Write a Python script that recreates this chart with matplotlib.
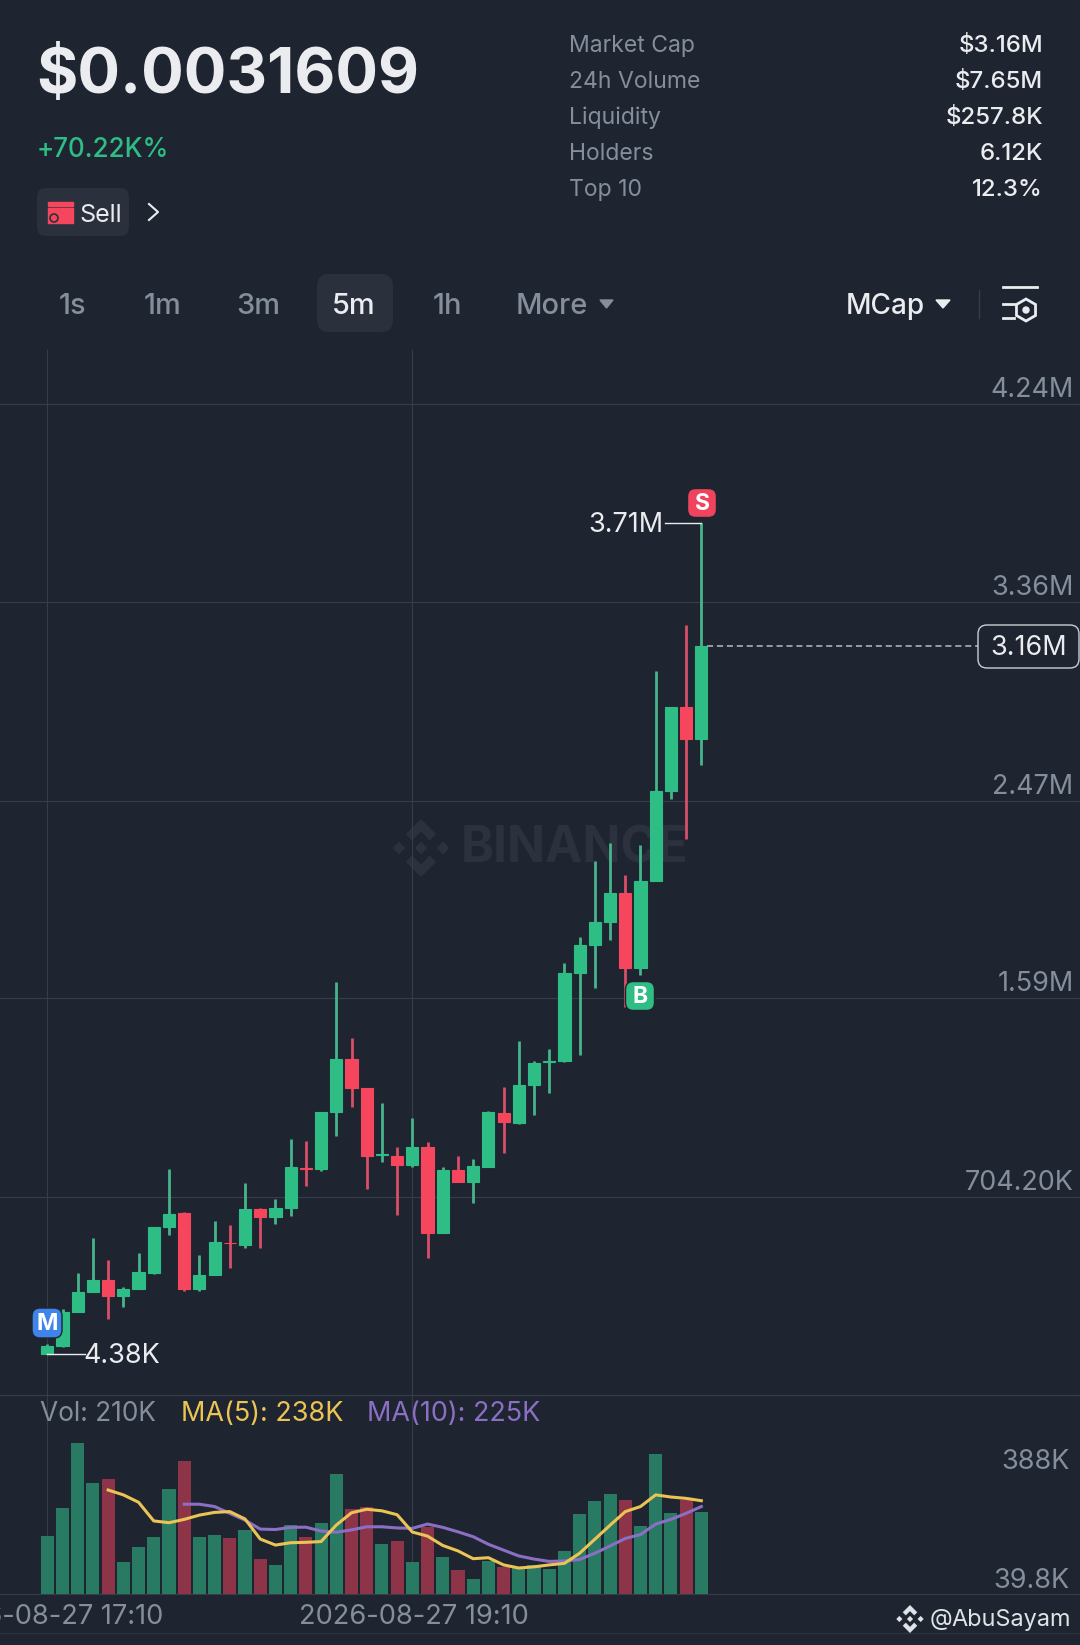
import matplotlib
matplotlib.use("Agg")
import matplotlib.pyplot as plt
from matplotlib.patches import FancyBboxPatch, Polygon, Circle, RegularPolygon

BACKGROUND = "#1e2530"
GRID_COLOR = "#363d49"
PILL_COLOR = "#2a313c"
GREEN = "#2ebd85"
RED = "#f6465d"
GREEN_WICK = "#47b58c"
RED_WICK = "#d94f68"
VOL_GREEN = "#287a63"
VOL_RED = "#8e3449"
MUTED = "#848e9c"
WHITE = "#eaecef"
MA5_COLOR = "#ecc455"
MA10_COLOR = "#8b6fc4"

plt.rcParams["font.family"] = ["Inter", "DejaVu Sans"]

# candles, values in thousands
OPENS = [5, 39.6, 192.7, 281.9, 332.5, 264.1, 293.8, 366.7, 568.9, 632.8, 293.8, 356.3,
         500.5, 491.6, 650.6, 614.9, 653.6, 833.5, 829, 1081.8, 1318.2, 1191.8, 892,
         888.5, 846.9, 928.6, 542, 824.6, 771, 839.4, 1080.3, 1035.7, 1203.7, 1307.8,
         1309.2, 1701, 1830.3, 1932, 2058.2, 1727.3, 2113.6, 2513.2, 2891.4, 2746.9]
HIGHS = [47, 203, 363.7, 519.8, 423, 301.3, 452.9, 571.9, 827.6, 638.7, 445.5, 597,
         579.2, 768, 653.6, 693.7, 964.3, 952.4, 1081.8, 1661.6, 1414.8, 1191.8, 1121.9,
         928.6, 1056.5, 948, 839.4, 887, 875.1, 1087.7, 1194.8, 1400, 1312.2, 1364.2,
         1746.3, 1864.2, 2202.8, 2283, 2138.1, 2271.9, 3051.5, 2891.4, 3255.3, 3710]
LOWS = [4.38, 33.7, 192.7, 281.9, 158.5, 212.1, 293.8, 359.2, 534.7, 286.4, 286.4, 356.3,
        386, 478.2, 478.2, 583.7, 620.9, 754.7, 820.1, 977.7, 1107, 738.3, 860,
        622.4, 836.5, 432, 542, 769.6, 678.9, 836.5, 900.4, 1029.7, 1069.9, 1168,
        1304.8, 1337.5, 1636.3, 1849.1, 1551.6, 1692.1, 2113.6, 2479.3, 2302.7, 2628.7]
CLOSES = [39.6, 191.2, 281.9, 332.5, 264.1, 292.4, 368.2, 568.9, 629.8, 292.4, 354.8, 503.4,
          497.5, 649.1, 614.9, 653.6, 837.9, 829, 1081.8, 1318.2, 1191.8, 888.5, 897,
          846.9, 928.6, 542, 824.6, 769.6, 842.4, 1081.8, 1037.2, 1203.7, 1301.8, 1310.7,
          1703.2, 1829, 1930.7, 2058.2, 1727.3, 2114.9, 2513.2, 2891.4, 2746.9, 3160]

VOLUMES = [148, 219, 387, 285, 296, 81, 121, 145, 268, 340, 145, 150, 142, 165, 89, 75,
           177, 146, 181, 307, 217, 222, 128, 135, 81, 172, 94, 60, 39, 85, 69, 65, 74,
           63, 109, 205, 239, 256, 242, 173, 359, 207, 241, 210]
MA5 = [266.5, 254, 235, 187, 182.5, 191, 202, 209, 211, 192, 140.5, 125, 131, 132, 134,
       176.5, 208, 217, 213, 203, 158.5, 148, 124, 110, 90, 92.5, 74, 66, 69, 74, 78,
       104, 140, 176, 211, 224, 254, 248.5, 245, 239]
MA10 = [230, 230, 224, 206.5, 189, 166, 165, 170.5, 171, 161, 158, 164, 172, 172, 169,
        168, 179, 170.5, 159, 146.5, 127, 112, 97, 89, 83, 84, 88, 104, 122.5, 142, 152,
        179, 191, 206.5, 224]
MA5_START = 4
MA10_START = 9

PRICE_TICKS = [4240, 3360, 2470, 1590, 704.2]
PRICE_LABELS = ["4.24M", "3.36M", "2.47M", "1.59M", "704.20K"]
VOL_TICKS = [346, 40]
VOL_LABELS = ["388K", "39.8K"]
TIME_TICKS = [0, 24]
TIME_LABELS = ["2026-08-27 17:10", "2026-08-27 19:10"]
LAST_PRICE = 3160

STATS = ["Market Cap", "24h Volume", "Liquidity", "Holders", "Top 10"]
STAT_VALUES = ["$3.16M", "$7.65M", "$257.8K", "6.12K", "12.3%"]
TABS = ["1s", "1m", "3m", "5m", "1h", "More"]


def px(v):
    return v * 0.72


def draw_logo(ax, cx, cy, s, color, zorder=1):
    top = [(0, -1), (0.52, -0.48), (0.3, -0.26), (0, -0.56), (-0.3, -0.26), (-0.52, -0.48)]
    bottom = [(x, -y) for x, y in top]
    mid = [(0, -0.22), (0.22, 0), (0, 0.22), (-0.22, 0)]
    left = [(x - 0.76, y) for x, y in mid]
    right = [(x + 0.76, y) for x, y in mid]
    for shape in (top, bottom, mid, left, right):
        pts = [(cx + x * s, cy + y * s) for x, y in shape]
        ax.add_patch(Polygon(pts, closed=True, facecolor=color, edgecolor="none", zorder=zorder))


def badge(ax, cx, cy, size, color, letter):
    half = size / 2
    ax.add_patch(FancyBboxPatch((cx - half + 7, cy - half + 7), size - 14, size - 14,
                                boxstyle="round,pad=7,rounding_size=8",
                                facecolor=color, edgecolor=BACKGROUND, linewidth=1))
    ax.text(cx, cy + 1, letter, color="#ffffff", fontsize=px(23), fontweight="bold",
            ha="center", va="center")


def draw_header(ax):
    ax.text(36, 76, "$0.0031609", color=WHITE, fontsize=px(63.2), fontweight="bold", va="center")
    ax.text(37, 150, "+70.22K%", color=GREEN, fontsize=px(26), fontweight="medium", va="center")

    ax.add_patch(FancyBboxPatch((45, 196), 76, 32, boxstyle="round,pad=8,rounding_size=9",
                                facecolor=PILL_COLOR, edgecolor="none"))
    ax.add_patch(plt.Rectangle((48, 202), 25, 4, color=RED))
    ax.add_patch(plt.Rectangle((48, 208), 25, 15, color=RED))
    ax.add_patch(Circle((54, 218), 4, facecolor=RED, edgecolor=PILL_COLOR, linewidth=1.2))
    ax.text(79, 215, "Sell", color=WHITE, fontsize=px(25), va="center")
    ax.plot([149, 158, 149], [204, 212, 220], color=WHITE, lw=1.5)

    for i, (name, value) in enumerate(zip(STATS, STAT_VALUES)):
        y = 46 + i * 36
        ax.text(569, y, name, color=MUTED, fontsize=px(23), va="center")
        ax.text(1043, y, value, color=WHITE, fontsize=px(24), fontweight="medium", ha="right", va="center")

    ax.add_patch(FancyBboxPatch((327, 284), 56, 38, boxstyle="round,pad=10,rounding_size=12",
                                facecolor=PILL_COLOR, edgecolor="none"))
    for name, x in zip(TABS, [73, 163, 258, 354, 447, 552]):
        ax.text(x, 306, name, color=WHITE if name == "5m" else MUTED, fontsize=px(29),
                fontweight="medium", ha="center", va="center")
    ax.add_patch(Polygon([(600, 300), (613, 300), (606.5, 308)], color=MUTED))
    ax.text(885, 306, "MCap", color=WHITE, fontsize=px(28), fontweight="medium", ha="center", va="center")
    ax.add_patch(Polygon([(936, 300), (950, 300), (943, 308)], color=WHITE))
    ax.plot([979, 979], [290, 318], color=GRID_COLOR, lw=1)

    ax.plot([1003, 1037], [287, 287], color=WHITE, lw=2)
    ax.plot([1003, 1014], [304, 304], color=WHITE, lw=2)
    ax.plot([1003, 1014], [318, 318], color=WHITE, lw=2)
    ax.add_patch(RegularPolygon((1026, 310), 6, radius=11, facecolor="none", edgecolor=WHITE, lw=2))
    ax.add_patch(Circle((1026, 310), 3, color=WHITE))


def main():
    fig = plt.figure(figsize=(10.8, 16.45), dpi=100, facecolor=BACKGROUND)

    back = fig.add_axes([0, 0, 1, 1], zorder=0)
    back.set_xlim(0, 1080)
    back.set_ylim(1645, 0)
    back.axis("off")
    draw_header(back)

    draw_logo(back, 421, 848, 29, "#2b323e")
    back.text(461, 849, "BINANCE", color="#2b323e", fontsize=px(50), fontweight="bold", va="center")

    # faint separators under and around the bottom pane
    back.plot([0, 1080], [1633, 1633], color="#2b323e", lw=1)

    spacing = 15.21
    x_left = -47.3 / spacing
    x_right = (1080 - 47.3) / spacing

    # price pane runs from y=350 to y=1395 in picture pixels
    ax = fig.add_axes([0, (1645 - 1395) / 1645, 1, (1395 - 350) / 1645], zorder=2)
    ax.patch.set_visible(False)
    ax.set_xlim(x_left, x_right)
    ax.set_ylim(-178.9, 4481.8)
    ax.set_yticks(PRICE_TICKS)
    ax.set_xticks(TIME_TICKS)
    ax.tick_params(length=0, labelleft=False, labelbottom=False)
    ax.grid(True, color=GRID_COLOR, linewidth=0.8)
    ax.set_axisbelow(True)
    for spine in ax.spines.values():
        spine.set_visible(False)
    ax.spines["bottom"].set_visible(True)
    ax.spines["bottom"].set_color(GRID_COLOR)

    idx = list(range(len(OPENS)))
    up = [c >= o for o, c in zip(OPENS, CLOSES)]
    ax.vlines(idx, LOWS, HIGHS, colors=[GREEN_WICK if u else RED_WICK for u in up], linewidth=2.0, zorder=3)
    ax.bar(idx, [c - o for o, c in zip(OPENS, CLOSES)], bottom=OPENS, width=0.8,
           color=[GREEN if u else RED for u in up], edgecolor=[GREEN if u else RED for u in up],
           linewidth=0.8, zorder=4)

    for tick, label in zip(PRICE_TICKS, PRICE_LABELS):
        ax.annotate(label, (0.994, tick), xycoords=ax.get_yaxis_transform(), xytext=(0, px(14)),
                    textcoords="offset points", color=MUTED, fontsize=px(27), ha="right", va="center")

    # last price line and tag
    ax.plot([43.4, 61.2], [LAST_PRICE, LAST_PRICE], color="#b7bdc6", lw=1.1, ls=(0, (4, 2.5)), zorder=2)

    # high / low callouts
    ax.plot([40.6, 43], [3710, 3710], color=WHITE, lw=1, zorder=5)
    ax.annotate("3.71M", (40.6, 3710), xytext=(-1, -1.5), textcoords="offset points", color=WHITE,
                fontsize=px(27), ha="right", va="center")
    ax.plot([0, 2.5], [4.38, 4.38], color=WHITE, lw=1, zorder=5)
    ax.annotate("4.38K", (2.5, 4.38), xytext=(-1.5, -1.5), textcoords="offset points", color=WHITE,
                fontsize=px(27), ha="left", va="center")

    # volume pane runs from y=1395 to y=1593.7
    vax = fig.add_axes([0, (1645 - 1593.7) / 1645, 1, 198.7 / 1645], zorder=2)
    vax.patch.set_visible(False)
    vax.set_xlim(x_left, x_right)
    vax.set_ylim(0, 510.7)
    vax.set_xticks(TIME_TICKS)
    vax.set_yticks([])
    vax.tick_params(length=0, labelbottom=False)
    vax.grid(True, axis="x", color=GRID_COLOR, linewidth=0.8)
    vax.set_axisbelow(True)
    for spine in vax.spines.values():
        spine.set_visible(False)
    vax.spines["bottom"].set_visible(True)
    vax.spines["bottom"].set_color(GRID_COLOR)

    vax.bar(idx, VOLUMES, width=0.86, color=[VOL_GREEN if u else VOL_RED for u in up], zorder=3)
    vax.plot(range(MA10_START, MA10_START + len(MA10)), MA10, color=MA10_COLOR, lw=2.2, zorder=4)
    vax.plot(range(MA5_START, MA5_START + len(MA5)), MA5, color=MA5_COLOR, lw=2.2, zorder=5)

    for tick, label in zip(VOL_TICKS, VOL_LABELS):
        vax.annotate(label, (0.99, tick), xycoords=vax.get_yaxis_transform(), xytext=(0, -2),
                     textcoords="offset points", color=MUTED, fontsize=px(27), ha="right", va="center")

    for tick, label in zip(TIME_TICKS, TIME_LABELS):
        vax.annotate(label, (tick, 0), xycoords=vax.get_xaxis_transform(), xytext=(1, -px(23)),
                     textcoords="offset points", color=MUTED, fontsize=px(27.3), ha="center",
                     va="center", annotation_clip=False)

    front = fig.add_axes([0, 0, 1, 1], zorder=5)
    front.patch.set_visible(False)
    front.set_xlim(0, 1080)
    front.set_ylim(1645, 0)
    front.axis("off")

    front.add_patch(FancyBboxPatch((986, 633), 85, 27, boxstyle="round,pad=8,rounding_size=9",
                                   facecolor=BACKGROUND, edgecolor="#c9ced6", linewidth=1))
    front.text(1029, 648, "3.16M", color=WHITE, fontsize=px(27), ha="center", va="center")

    badge(front, 47, 1323, 30, "#3f84e8", "M")
    badge(front, 702, 503, 29, "#f0435e", "S")
    badge(front, 640, 996, 29, GREEN, "B")

    front.text(40, 1414, "Vol: 210K", color=MUTED, fontsize=px(26.3), va="center")
    front.text(181, 1414, "MA(5): 238K", color=MA5_COLOR, fontsize=px(27), va="center")
    front.text(367, 1414, "MA(10): 225K", color=MA10_COLOR, fontsize=px(27), va="center")

    draw_logo(front, 910, 1619, 14, "#dfe2e6")
    front.text(930, 1619, "@", color="#dfe2e6", fontsize=px(23.5), ha="left", va="center")
    front.text(1071, 1620, "AbuSayam", color="#dfe2e6", fontsize=px(23.5), ha="right", va="center")

    fig.savefig("out.png", dpi=100, facecolor=BACKGROUND)
    plt.close(fig)


if __name__ == "__main__":
    main()
